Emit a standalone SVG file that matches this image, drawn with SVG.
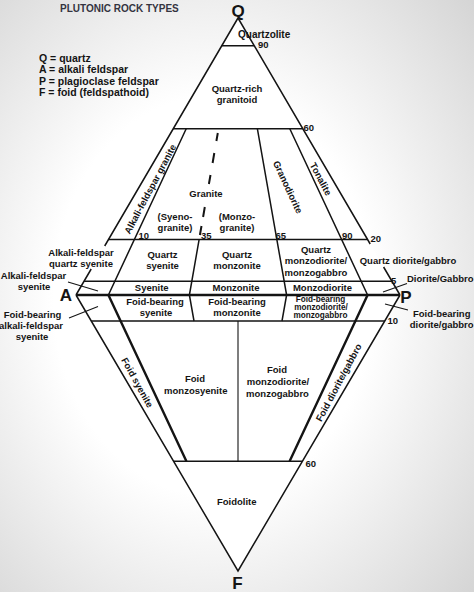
<svg xmlns="http://www.w3.org/2000/svg" width="474" height="592" viewBox="0 0 474 592">
<defs>
<radialGradient id="bg" cx="0.45" cy="0.5" r="0.75">
<stop offset="0.45" stop-color="#ffffff"/>
<stop offset="1" stop-color="#d4d4d4"/>
</radialGradient>
<style>
text{font-family:"Liberation Sans",Arial,sans-serif;font-weight:bold;fill:#141414;font-size:9.5px}
.c{text-anchor:middle}
.v{text-anchor:middle;dominant-baseline:central}
.vx{font-size:17px}
.sm{font-size:8.2px}
.lg{font-size:10.5px}
.ttl{font-size:10px;fill:#34343f}
.ln{fill:none;stroke:#141414;stroke-width:1.5;stroke-linecap:butt}
.th{stroke-width:2.4}
.tn{stroke-width:1.1}
.ds{stroke-width:2}
</style>
</defs>
<rect width="474" height="592" fill="url(#bg)"/>
<polygon points="238,18 400,295 238,571 76,295" fill="#ffffff"/>

<g id="connectors">
<path class="ln" d="M238,18 L104.7,246 M91.2,269 L76,295 M238,18 L370.2,244 M383.6,267 L400,295 M76,295 L238,571 L400,295"/>
<path class="ln" d="M221.8,45.7 H254.2 M173.2,128.8 H302.8 M108.4,239.6 H367.6 M84.1,281.2 H391.9 M91.3,321 H384.7 M173.6,461.2 H302.4"/>
<path class="ln th" d="M76,295 H400"/>
<path class="ln" d="M186.2,128.8 L108.4,295 M289.8,128.8 L367.6,295 M257.4,128.8 L286.6,295 M199.1,239.6 L189.4,295"/>
<path class="ln ds" d="M217.8,133 L216.4,141 M214.3,153 L212.6,163 M210.5,175 L208.9,184 M204.8,207 L203.1,217 M201.5,226 L199.9,235"/>
<path class="ln th" d="M108.4,295 L186.4,461.2 M367.6,295 L289.6,461.2"/>
<path class="ln" d="M189.4,295 L194,321 M286.6,295 L282,321"/>
<path class="ln tn" d="M238,321 V461.2"/>
<path class="ln tn" d="M68,282 L98,291 M69,318 L98,306.5 M383,292 L407,283.5 M385,304 L408,310"/>
</g>

<g id="title"><text class="ttl" x="60" y="11.6">PLUTONIC ROCK TYPES</text></g>
<g id="legend">
<text class="lg" x="39" y="62">Q = quartz</text>
<text class="lg" x="39" y="73.3">A = alkali feldspar</text>
<text class="lg" x="39" y="84.6">P = plagioclase feldspar</text>
<text class="lg" x="39" y="95.9">F = foid (feldspathoid)</text>
</g>

<g id="apex-Q"><text class="c vx" x="238" y="17">Q</text></g>
<g id="apex-A"><text class="c vx" x="66" y="301">A</text></g>
<g id="apex-P"><text class="c vx" x="406" y="302.5">P</text></g>
<g id="apex-F"><text class="c vx" x="237.5" y="588.5">F</text></g>

<g id="quartzolite"><text x="238" y="37.5" style="font-size:10px">Quartzolite</text></g>
<g id="quartz-rich-granitoid"><text class="c" x="237" y="91.5">Quartz-rich</text><text class="c" x="237" y="102.5">granitoid</text></g>
<g id="alkali-feldspar-granite"><text class="v" transform="translate(150,189) rotate(-62)">Alkali-feldspar granite</text></g>
<g id="granite">
<text class="c" x="206" y="197">Granite</text>
<text class="c" x="175" y="220">(Syeno-</text><text class="c" x="175" y="231.3">granite)</text>
<text class="c" x="237" y="220">(Monzo-</text><text class="c" x="237" y="231.3">granite)</text>
</g>
<g id="granodiorite"><text class="v" transform="translate(288,187) rotate(65)">Granodiorite</text></g>
<g id="tonalite"><text class="v" transform="translate(321,179) rotate(62)">Tonalite</text></g>

<g id="alkali-feldspar-quartz-syenite"><text class="c" x="81" y="256.4">Alkali-feldspar</text><text class="c" x="81" y="266.6">quartz syenite</text></g>
<g id="quartz-syenite"><text class="c" x="162.5" y="258.3">Quartz</text><text class="c" x="162.5" y="269.3">syenite</text></g>
<g id="quartz-monzonite"><text class="c" x="237" y="258.3">Quartz</text><text class="c" x="237" y="269.3">monzonite</text></g>
<g id="quartz-monzodiorite"><text class="c" x="316" y="253.3">Quartz</text><text class="c" x="316" y="264.3">monzodiorite/</text><text class="c" x="316" y="275.6">monzogabbro</text></g>
<g id="quartz-diorite"><text class="c" x="408" y="264">Quartz diorite/gabbro</text></g>

<g id="alkali-feldspar-syenite"><text class="c" x="33.5" y="279">Alkali-feldspar</text><text class="c" x="34" y="290">syenite</text></g>
<g id="syenite"><text class="c" x="151.7" y="290.6">Syenite</text></g>
<g id="monzonite"><text class="c" x="236" y="290.6">Monzonite</text></g>
<g id="monzodiorite"><text class="c" x="322.5" y="290.6">Monzodiorite</text></g>
<g id="diorite-gabbro"><text x="407" y="281.5">Diorite/Gabbro</text></g>

<g id="foid-bearing-alkali-feldspar-syenite"><text class="c" x="32.5" y="317.8">Foid-bearing</text><text class="c" x="31" y="328.8">alkali-feldspar</text><text class="c" x="32" y="340">syenite</text></g>
<g id="foid-bearing-syenite"><text class="c" x="155" y="305">Foid-bearing</text><text class="c" x="156" y="316">syenite</text></g>
<g id="foid-bearing-monzonite"><text class="c" x="237" y="305">Foid-bearing</text><text class="c" x="237" y="316">monzonite</text></g>
<g id="foid-bearing-monzodiorite"><text class="c sm" x="320.5" y="301.6">Foid-bearing</text><text class="c sm" x="321" y="309.9">monzodiorite/</text><text class="c sm" x="320.5" y="318.2">monzogabbro</text></g>
<g id="foid-bearing-diorite"><text class="c" x="441.7" y="316.6">Foid-bearing</text><text class="c" x="441.7" y="328.3">diorite/gabbro</text></g>

<g id="foid-syenite"><text class="v" transform="translate(137.5,382.5) rotate(61)">Foid syenite</text></g>
<g id="foid-monzosyenite"><text class="c" x="195" y="381.6">Foid</text><text class="c" x="195.8" y="394">monzosyenite</text></g>
<g id="foid-monzodiorite"><text class="c" x="277" y="373.3">Foid</text><text class="c" x="278" y="385">monzodiorite/</text><text class="c" x="277.5" y="396.6">monzogabbro</text></g>
<g id="foid-diorite"><text class="v" transform="translate(338.5,382.5) rotate(-62)">Foid diorite/gabbro</text></g>
<g id="foidolite"><text class="c" x="236.7" y="505">Foidolite</text></g>

<g id="scale-numbers">
<text x="258" y="47.8">90</text>
<text x="303.5" y="131">60</text>
<text x="138.5" y="239.3">10</text>
<text x="201" y="239.3">35</text>
<text x="275.5" y="239.3">65</text>
<text x="342" y="239.3">90</text>
<text x="370.5" y="242">20</text>
<text x="391" y="283.5">5</text>
<text x="387.5" y="323.8">10</text>
<text x="305.5" y="466.5">60</text>
</g>
</svg>
